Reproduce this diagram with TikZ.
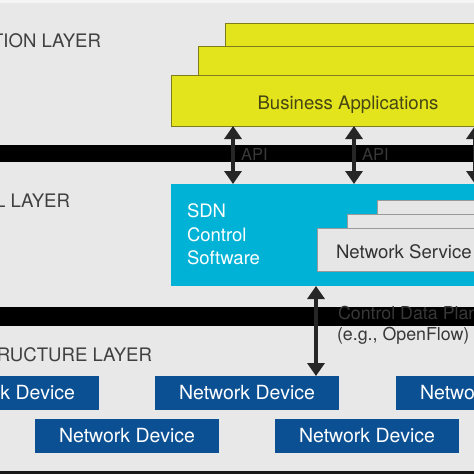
\documentclass[tikz,border=0pt]{standalone}
\usepackage{fontspec}
\setmainfont{TeX Gyre Heros}
\usetikzlibrary{positioning,arrows.meta}
\definecolor{bggray}{RGB}{232,232,232}
\definecolor{appyellow}{RGB}{227,228,28}
\definecolor{appedge}{RGB}{125,125,30}
\definecolor{apptext}{RGB}{70,70,20}
\definecolor{sdncyan}{RGB}{0,178,214}
\definecolor{devblue}{RGB}{12,80,148}
\definecolor{svcgray}{RGB}{230,230,230}
\definecolor{labelgray}{RGB}{64,64,64}

\begin{document}
\begin{tikzpicture}[
    x=1pt, y=-1pt,
    every node/.style={inner sep=0pt, outer sep=0pt},
    layer/.style={font=\fontsize{18.6}{19}\selectfont, text=labelgray, anchor=base east},
    appbox/.style={draw=appedge, line width=0.6pt, fill=appyellow, anchor=north west, minimum width=400pt},
    svcbox/.style={draw=black!40, line width=0.6pt, fill=svcgray, anchor=north west, minimum width=300pt},
    device/.style={fill=devblue, text=white, anchor=north west, minimum width=184pt, minimum height=34pt, font=\fontsize{19.5}{20}\selectfont},
    dbl/.style={{Triangle[length=13pt,width=17pt]}-{Triangle[length=13pt,width=17pt]}, line width=4pt, draw=black!85},
    dimtext/.style={font=\fontsize{16.5}{17}\selectfont, text=black!78, anchor=base west},
    ifacetext/.style={dimtext, font=\fontsize{17.8}{18}\selectfont}
]
    \useasboundingbox (0,0) rectangle (474,474);
    \clip (0,0) rectangle (474,474);
    \fill[bggray] (0,0) rectangle (474,474);
    \fill[black!4] (0,0) rectangle (474,3);
    \fill[black!90] (0,470.5) rectangle (474,474);

    % interface bars
    \fill[black] (0,145) rectangle (474,162);
    \fill[black] (0,307) rectangle (474,325.5);

    % layer names
    \node[layer] (lapp) at (101,47) {APPLICATION LAYER};
    \node[layer] (lctl) at (70,207) {CONTROL LAYER};
    \node[layer] (linf) at (152,361) {INFRASTRUCTURE LAYER};

    % application layer
    \node[appbox, minimum height=23pt] (app3) at (225,23) {};
    \node[appbox, minimum height=29pt] (app2) at (198,46) {};
    \node[appbox, minimum height=51pt] (apps) at (171,75) {};
    \node[anchor=base, text=apptext, font=\fontsize{18.6}{19}\selectfont] (appt) at (348,109) {Business Applications};

    % control layer
    \node[fill=sdncyan, anchor=north west, minimum width=400pt, minimum height=102pt] (sdn) at (171,184) {};
    \node[anchor=north west, align=left, text=white, font=\fontsize{18.5}{23.5}\selectfont] (sdnt) at (187,204) {SDN\\Control\\Software};
    \node[svcbox, minimum height=14pt] (svc3) at (377,200) {};
    \node[svcbox, minimum height=14pt] (svc2) at (347,214) {};
    \node[svcbox, minimum height=43pt] (svc) at (317,228) {};
    \node[anchor=base west, text=black!80, font=\fontsize{18.6}{19}\selectfont] (svct) at (336,258) {Network Service};

    % infrastructure layer
    \node[device] (dev1) at (-85,376) {Network Device};
    \node[device] (dev2) at (155,376) {Network Device};
    \node[device] (dev3) at (396,376) {Network Device};
    \node[device] (dev4) at (35,418.5) {Network Device};
    \node[device] (dev5) at (275,418.5) {Network Device};

    % interfaces
    \coordinate (a1) at (233,0);
    \coordinate (a2) at (354,0);
    \coordinate (a3) at (475,0);
    \coordinate (c1) at (316,0);
    \draw[dbl] (apps.south -| a1) -- (sdn.north -| a1);
    \draw[dbl] (apps.south -| a2) -- (sdn.north -| a2);
    \draw[dbl] (apps.south -| a3) -- (sdn.north -| a3);
    \draw[dbl] (sdn.south -| c1) -- (dev2.north -| c1);

    \node[dimtext] (api1) at (241,160) {API};
    \node[dimtext] (api2) at (362,160) {API};
    \node[ifacetext] (cdp) at (338,319) {Control Data Plane interface};
    \node[ifacetext] (cdpe) at (337,340) {(e.g., OpenFlow)};
\end{tikzpicture}
\end{document}
